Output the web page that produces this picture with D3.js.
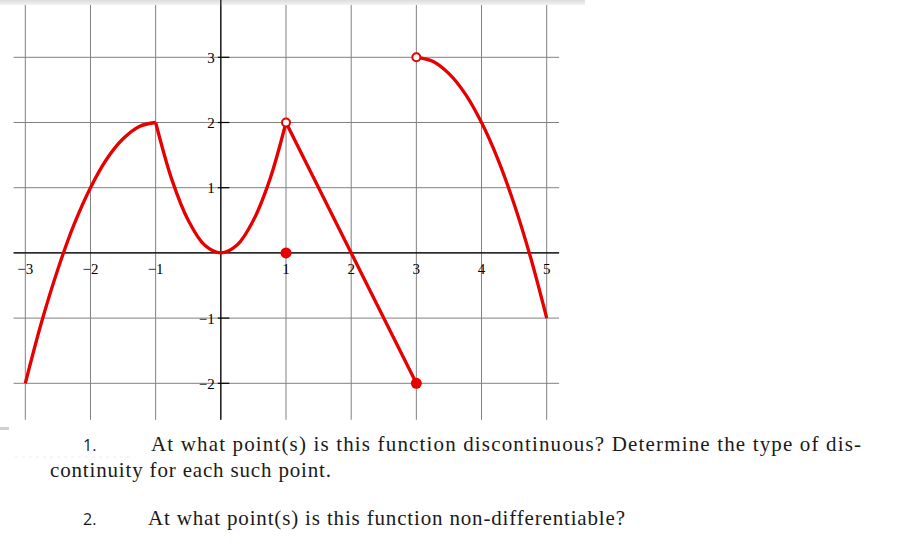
<!DOCTYPE html>
<html>
<head>
<meta charset="utf-8">
<script src="https://cdn.jsdelivr.net/npm/d3@7"></script>
<style>
  body { margin: 0; background: #fff; }
  svg { display: block; }
  .serif { font-family: "Liberation Serif", "Times New Roman", "DejaVu Serif", serif; }
  .sans { font-family: "Open Sans", "Noto Sans", sans-serif; }
</style>
</head>
<body>
<div id="chart"></div>
<script>
// tick values
var xTicks = [-3, -2, -1, 1, 2, 3, 4, 5];
var yTicks = [-2, -1, 1, 2, 3];
var xGrid = [-3, -2, -1, 0, 1, 2, 3, 4, 5];
var yGrid = [-2, -1, 0, 1, 2, 3];

// pieces of the graph
var piece1 = [[-3, -2], [-2.75, -1.06], [-2.5, -0.25], [-2.25, 0.44], [-2, 1],
              [-1.75, 1.44], [-1.5, 1.75], [-1.25, 1.94], [-1, 2]];
var piece2 = [[-1, 2], [-0.75, 1.12], [-0.5, 0.5], [-0.25, 0.12], [0, 0],
              [0.25, 0.12], [0.5, 0.5], [0.75, 1.12], [1, 2]];
var piece3 = [[1, 2], [3, -2]];
var piece4 = [[3, 3], [3.25, 2.94], [3.5, 2.75], [3.75, 2.44], [4, 2],
              [4.25, 1.44], [4.5, 0.75], [4.75, -0.06], [5, -1]];
var openDots = [[1, 2], [3, 3]];
var closedDots = [[1, 0], [3, -2]];

var questions = [
  {num: "1.", text: "At what point(s) is this function discontinuous?  Determine the type of dis-", tx: 151, y: 451, w: 710},
  {num: null, text: "continuity for each such point.", tx: 50, y: 477, w: 281},
  {num: "2.", text: "At what point(s) is this function non-differentiable?", tx: 148, y: 525, w: 477}
];

var W = 906, H = 547;
var red = "#e60000";

var svg = d3.select("#chart").append("svg")
  .attr("width", W).attr("height", H);

// thin grey strip along the top
var grad = svg.append("defs").append("linearGradient")
  .attr("id", "topbar").attr("x1", 0).attr("y1", 0).attr("x2", 0).attr("y2", 1);
grad.append("stop").attr("offset", "0%").attr("stop-color", "#dcdcdc");
grad.append("stop").attr("offset", "100%").attr("stop-color", "#f3f3f3");

var x = d3.scaleLinear().domain([-3, 5]).range([25.3, 546.7]);
var y = d3.scaleLinear().domain([-2, 3]).range([383.3, 57.3]);

// grid
var grid = svg.append("g").attr("stroke", "#808080").attr("stroke-width", 1);
grid.selectAll("line.v").data(xGrid).enter().append("line")
  .attr("class", "v")
  .attr("x1", d => x(d)).attr("x2", d => x(d))
  .attr("y1", 0).attr("y2", y(-2.56));
grid.selectAll("line.h").data(yGrid).enter().append("line")
  .attr("class", "h")
  .attr("x1", x(-3.18)).attr("x2", x(5.19))
  .attr("y1", d => y(d)).attr("y2", d => y(d));

svg.append("rect").attr("x", 0).attr("y", 0).attr("width", 585).attr("height", 5)
  .attr("fill", "url(#topbar)");

// axes
var axes = svg.append("g").attr("stroke", "#000").attr("stroke-width", 1.2);
axes.append("line")
  .attr("x1", x(-3.18)).attr("x2", x(5.19))
  .attr("y1", y(0)).attr("y2", y(0));
axes.append("line")
  .attr("x1", x(0)).attr("x2", x(0))
  .attr("y1", 0).attr("y2", y(-2.56));
axes.selectAll("line.tick").data(yTicks).enter().append("line")
  .attr("class", "tick")
  .attr("x1", x(0) - 3).attr("x2", x(0) + 8.5)
  .attr("y1", d => y(d)).attr("y2", d => y(d));

var fmt = d => (d < 0 ? "\u2212" + Math.abs(d) : String(d));

svg.selectAll("text.xl").data(xTicks).enter().append("text")
  .attr("class", "xl serif")
  .attr("x", d => x(d)).attr("y", y(0) + 21)
  .attr("text-anchor", "middle")
  .attr("font-size", 15)
  .text(fmt);

svg.selectAll("text.yl").data(yTicks).enter().append("text")
  .attr("class", "yl serif")
  .attr("x", x(0) - 6).attr("y", d => y(d) + 5.5)
  .attr("text-anchor", "end")
  .attr("font-size", 15)
  .text(fmt);

// graph of the function
var curve = d3.line()
  .x(d => x(d[0])).y(d => y(d[1]))
  .curve(d3.curveCatmullRom.alpha(0.5));
var straight = d3.line().x(d => x(d[0])).y(d => y(d[1]));

var plot = svg.append("g").attr("fill", "none").attr("stroke", red)
  .attr("stroke-width", 3.3).attr("stroke-linejoin", "round");
[piece1, piece2, piece4].forEach(function(p) {
  plot.append("path").attr("d", curve(p));
});
plot.append("path").attr("d", straight(piece3));

svg.selectAll("circle.closed").data(closedDots).enter().append("circle")
  .attr("class", "closed")
  .attr("cx", d => x(d[0])).attr("cy", d => y(d[1])).attr("r", 5.5)
  .attr("fill", red);
svg.selectAll("circle.open").data(openDots).enter().append("circle")
  .attr("class", "open")
  .attr("cx", d => x(d[0])).attr("cy", d => y(d[1])).attr("r", 4)
  .attr("fill", "#fff").attr("stroke", red).attr("stroke-width", 2);

// faint scanner marks on the left
svg.append("rect").attr("x", 0).attr("y", 427).attr("width", 9).attr("height", 3)
  .attr("fill", "#d0d0d0");
svg.append("line").attr("x1", 15).attr("x2", 135).attr("y1", 457).attr("y2", 457)
  .attr("stroke", "#ececec").attr("stroke-dasharray", "3,4");

// questions
var q = svg.append("g").attr("fill", "#1a1a1a");
questions.forEach(function(d) {
  if (d.num) {
    q.append("text").attr("class", "sans").attr("x", 83).attr("y", d.y)
      .attr("font-size", 16)
      .text(d.num);
  }
  q.append("text").attr("class", "serif").attr("x", d.tx).attr("y", d.y)
    .attr("font-size", 21)
    .attr("textLength", d.w).attr("lengthAdjust", "spacing")
    .text(d.text);
});
</script>
</body>
</html>
